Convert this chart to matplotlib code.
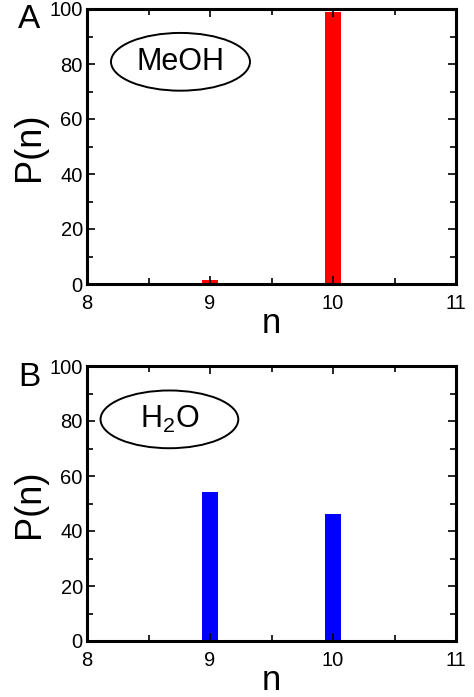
import matplotlib
matplotlib.use("Agg")
import matplotlib.pyplot as plt
from matplotlib.patches import Ellipse
from matplotlib.ticker import MultipleLocator

plt.rcParams['font.family'] = ['Liberation Sans', 'DejaVu Sans']
plt.rcParams['mathtext.fontset'] = 'custom'
plt.rcParams['mathtext.rm'] = 'Liberation Sans'

# data
n_meoh = [9, 10]
p_meoh = [1.5, 98.8]
n_h2o = [9, 10]
p_h2o = [54.2, 46.1]

panels = [
    ("A", "MeOH", n_meoh, p_meoh, "#ff0000", (8.76, 80.8), 1.13, 21),
    ("B", "H$_\\mathrm{2}$O", n_h2o, p_h2o, "#0000ff", (8.67, 80.6), 1.12, 21),
]

fig = plt.figure(figsize=(4.74, 6.97), dpi=100)
W, H = 474, 697
boxes = [(87, 9, 456, 284), (87, 366, 456, 641)]

for (letter, name, xs, ys, col, ecen, ew, eh), (l, t, r, b) in zip(panels, boxes):
    ax = fig.add_axes([l / W, 1 - b / H, (r - l) / W, (b - t) / H])
    ax.bar(xs, ys, width=0.13, color=col, edgecolor='none')
    ax.set_xlim(8, 11)
    ax.set_ylim(0, 100)
    ax.xaxis.set_major_locator(MultipleLocator(1))
    ax.xaxis.set_minor_locator(MultipleLocator(0.5))
    ax.yaxis.set_major_locator(MultipleLocator(20))
    ax.yaxis.set_minor_locator(MultipleLocator(10))
    ax.tick_params(which='both', direction='in', top=True, right=True,
                   labelsize=14.5, width=1.2)
    ax.tick_params(which='major', length=6)
    ax.tick_params(which='minor', length=4)
    ax.tick_params(axis='x', which='major', pad=7)
    ax.tick_params(axis='y', which='major', pad=3)
    for s in ax.spines.values():
        s.set_linewidth(2.2)
    ax.set_xlabel("n", fontsize=25, labelpad=-4)
    ax.set_ylabel("P(n)", fontsize=26, labelpad=2)
    ax.add_patch(Ellipse(ecen, ew, eh, facecolor='none', edgecolor='black', lw=1.4))
    ax.text(ecen[0], ecen[1], name, fontsize=22, ha='center', va='center')
    fig.text(29 / W, 1 - (19 if letter == "A" else 378) / H, letter,
             fontsize=24, ha='center', va='center')

fig.savefig("out.png", dpi=100)
